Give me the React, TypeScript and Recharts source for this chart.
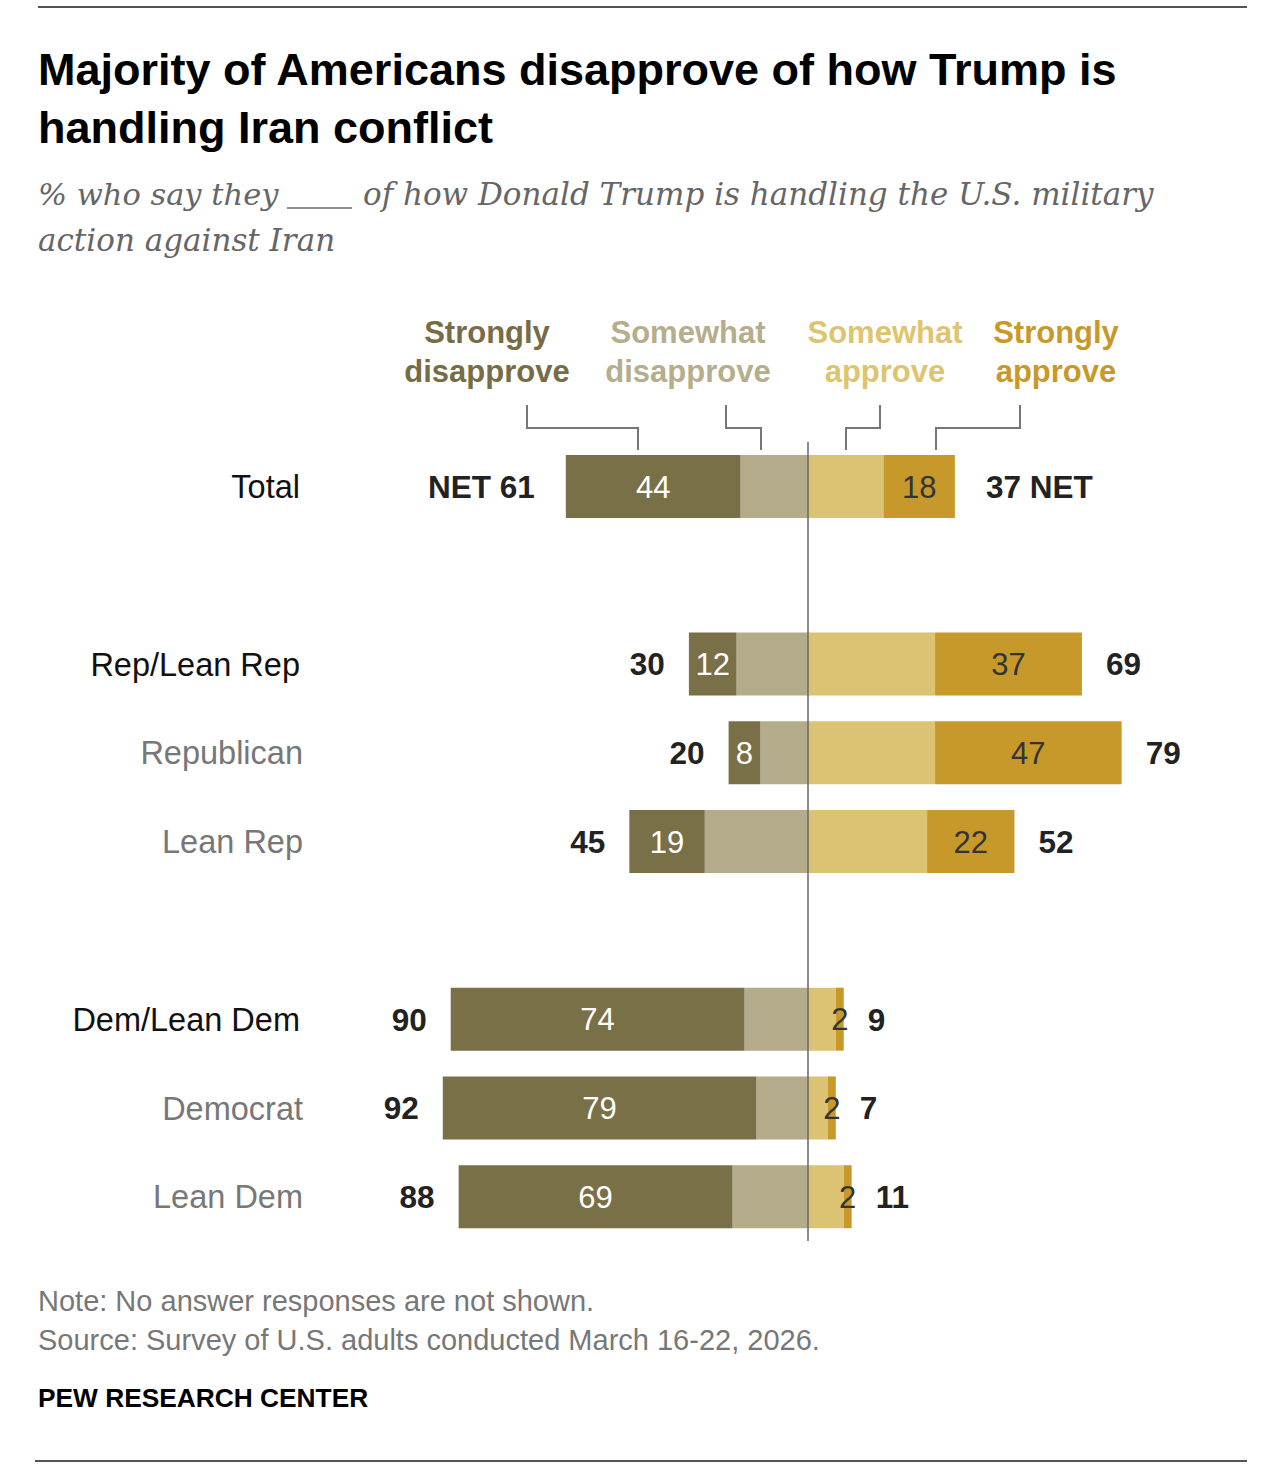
import React from 'react';
import { BarChart, Bar, XAxis, YAxis, ReferenceLine, LabelList } from 'recharts';

// Survey groups, top to bottom
const groups = ['Total', 'Rep/Lean Rep', 'Republican', 'Lean Rep', 'Dem/Lean Dem', 'Democrat', 'Lean Dem'];
// Headline rows are drawn in black, sub-groups in gray
const headline = [true, true, false, false, true, false, false];

// Percentages per response
const stronglyDisapprove = [44, 12, 8, 19, 74, 79, 69];
const somewhatDisapprove = [17, 18, 12, 26, 16, 13, 19];
const somewhatApprove = [19, 32, 32, 30, 7, 5, 9];
const stronglyApprove = [18, 37, 47, 22, 2, 2, 2];
const netDisapprove = [61, 30, 20, 45, 90, 92, 88];
const netApprove = [37, 69, 79, 52, 9, 7, 11];

// Row layout, with blank spacer rows between the blocks
const rowOrder: (number | null)[] = [0, null, 1, 2, 3, null, 4, 5, 6];

const COLORS = {
  strongDis: '#7a7048',
  someDis: '#b3ab8a',
  someApp: '#dcc273',
  strongApp: '#c7992a',
};

const SANS = '"Liberation Sans", Arial, sans-serif';
const SERIF = '"DejaVu Serif", Georgia, serif';

const rows = rowOrder.map((g, i) => {
  if (g === null) {
    return { name: `spacer-${i}` };
  }
  const isTotal = groups[g] === 'Total';
  return {
    name: groups[g],
    negStrongDis: -stronglyDisapprove[g],
    negSomeDis: -somewhatDisapprove[g],
    someApp: somewhatApprove[g],
    strongApp: stronglyApprove[g],
    strongDisLabel: stronglyDisapprove[g],
    strongAppLabel: stronglyApprove[g],
    netDisLabel: isTotal ? `NET ${netDisapprove[g]}` : `${netDisapprove[g]}`,
    netAppLabel: isTotal ? `${netApprove[g]} NET` : `${netApprove[g]}`,
  };
});

const boxOf = (props: any) => {
  const vb = props.viewBox && props.viewBox.width !== undefined ? props.viewBox : props;
  const x = Number(vb.x);
  const w = Number(vb.width);
  return {
    left: Math.min(x, x + w),
    right: Math.max(x, x + w),
    y: Number(vb.y),
    h: Math.abs(Number(vb.height)),
  };
};

const insideLabel = (color: string) => (props: any) => {
  if (props.value === undefined || props.value === null) return null;
  const b = boxOf(props);
  if (!isFinite(b.left) || !isFinite(b.y)) return null;
  return (
    <text
      x={(b.left + b.right) / 2}
      y={b.y + b.h / 2}
      dy="0.36em"
      textAnchor="middle"
      fill={color}
      fontSize={31}
      fontFamily={SANS}
    >
      {props.value}
    </text>
  );
};

const netLabel = (side: 'left' | 'right') => (props: any) => {
  if (props.value === undefined || props.value === null) return null;
  const b = boxOf(props);
  if (!isFinite(b.left) || !isFinite(b.y)) return null;
  const text = String(props.value);
  const gap = text.includes('NET') ? 31 : 24;
  return (
    <text
      x={side === 'left' ? b.left - gap : b.right + gap}
      y={b.y + b.h / 2}
      dy="0.36em"
      textAnchor={side === 'left' ? 'end' : 'start'}
      fill="#222"
      fontSize={31.5}
      fontWeight={700}
      fontFamily={SANS}
    >
      {text}
    </text>
  );
};

const CategoryTick = (props: any) => {
  const { y, payload } = props;
  const name: string = payload.value;
  const idx = groups.indexOf(name);
  if (idx < 0) return null;
  const strong = headline[idx];
  return (
    <text
      x={strong ? 300 : 303}
      y={y}
      dy="0.36em"
      textAnchor="end"
      fill={strong ? '#111' : '#777'}
      fontSize={32.5}
      fontFamily={SANS}
    >
      {name}
    </text>
  );
};

// Response legend above the bars, with bracket connectors
const legendItems = [
  { lines: ['Strongly', 'disapprove'], cx: 487, color: '#766c45', path: 'M527,405 V428 H638 V450' },
  { lines: ['Somewhat', 'disapprove'], cx: 688, color: '#b5ad8c', path: 'M726,405 V428 H761 V450' },
  { lines: ['Somewhat', 'approve'], cx: 885, color: '#dfc46f', path: 'M880,405 V428 H846 V450' },
  { lines: ['Strongly', 'approve'], cx: 1056, color: '#c8992a', path: 'M1020,405 V428 H936 V450' },
];

export default function App() {
  return (
    <div
      style={{
        position: 'absolute',
        left: 0,
        top: 0,
        width: 1280,
        height: 1468,
        background: '#fff',
        overflow: 'hidden',
      }}
    >
      <svg
        width={1280}
        height={1468}
        style={{ position: 'absolute', left: 0, top: 0 }}
      >
        <rect x={38} y={6} width={1209} height={2} fill="#555" />
        <text x={38} y={85} fontFamily={SANS} fontWeight={700} fontSize={45} fill="#000">
          Majority of Americans disapprove of how Trump is
        </text>
        <text x={38} y={143} fontFamily={SANS} fontWeight={700} fontSize={45} fill="#000">
          handling Iran conflict
        </text>
        <text x={38} y={205} fontFamily={SERIF} fontStyle="italic" fontSize={30.5} fill="#666">
          % who say they
        </text>
        <line x1={287} x2={352} y1={208} y2={208} stroke="#666" strokeWidth={1.5} />
        <text x={363} y={205} fontFamily={SERIF} fontStyle="italic" fontSize={31} fill="#666">
          of how Donald Trump is handling the U.S. military
        </text>
        <text x={38} y={251} fontFamily={SERIF} fontStyle="italic" fontSize={31} fill="#666">
          action against Iran
        </text>

        {legendItems.map((it) => (
          <g key={it.lines.join(' ')}>
            <text x={it.cx} y={343} textAnchor="middle" fontFamily={SANS} fontWeight={700} fontSize={31} fill={it.color}>
              {it.lines[0]}
            </text>
            <text x={it.cx} y={382} textAnchor="middle" fontFamily={SANS} fontWeight={700} fontSize={31} fill={it.color}>
              {it.lines[1]}
            </text>
            <path d={it.path} fill="none" stroke="#777" strokeWidth={2} />
          </g>
        ))}

        <text x={38} y={1311} fontFamily={SANS} fontSize={29} fill="#777">
          Note: No answer responses are not shown.
        </text>
        <text x={38} y={1350} fontFamily={SANS} fontSize={29} fill="#777">
          Source: Survey of U.S. adults conducted March 16-22, 2026.
        </text>
        <text x={38} y={1407} fontFamily={SANS} fontWeight={700} fontSize={26.3} fill="#000">
          PEW RESEARCH CENTER
        </text>
        <rect x={35} y={1460} width={1212} height={2} fill="#555" />
      </svg>

      <div style={{ position: 'absolute', left: 0, top: 420 }}>
        <BarChart
          width={1280}
          height={840}
          data={rows}
          layout="vertical"
          stackOffset="sign"
          barSize={63}
          margin={{ top: 22, right: 75, bottom: 19, left: 0 }}
        >
          <XAxis type="number" domain={[-100, 100]} hide />
          <YAxis
            type="category"
            dataKey="name"
            width={411}
            axisLine={false}
            tickLine={false}
            interval={0}
            tick={<CategoryTick />}
          />
          <Bar dataKey="negSomeDis" stackId="resp" fill={COLORS.someDis} isAnimationActive={false} />
          <Bar dataKey="negStrongDis" stackId="resp" fill={COLORS.strongDis} isAnimationActive={false}>
            <LabelList dataKey="strongDisLabel" content={insideLabel('#ffffff')} />
            <LabelList dataKey="netDisLabel" content={netLabel('left')} />
          </Bar>
          <Bar dataKey="someApp" stackId="resp" fill={COLORS.someApp} isAnimationActive={false} />
          <Bar dataKey="strongApp" stackId="resp" fill={COLORS.strongApp} isAnimationActive={false}>
            <LabelList dataKey="strongAppLabel" content={insideLabel('#333333')} />
            <LabelList dataKey="netAppLabel" content={netLabel('right')} />
          </Bar>
          <ReferenceLine x={0} stroke="#666" strokeWidth={1.5} />
        </BarChart>
      </div>
    </div>
  );
}
